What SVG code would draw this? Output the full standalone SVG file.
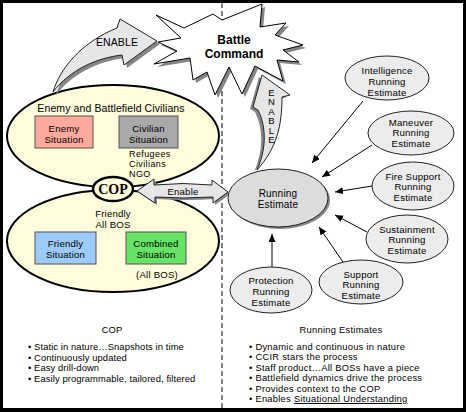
<svg xmlns="http://www.w3.org/2000/svg" width="466" height="412" viewBox="0 0 466 412">
<defs>
<style>
text{font-family:"Liberation Sans",Arial,sans-serif;font-size:9.6px;letter-spacing:0.2px;fill:#000}
.c{text-anchor:middle}
.hd{font-size:10.5px;letter-spacing:0.1px}
.big{fill:#FFFCDC;stroke:#000;stroke-width:2}
.box{stroke:#555;stroke-width:1}
.re{fill:#ECECEC;stroke:#222;stroke-width:1}
.sh{fill:#858585}
.arr{fill:#E6E6E6;stroke:#222;stroke-width:1}
.con{stroke:#000;stroke-width:1;fill:none;marker-end:url(#ah)}
.nl{font-size:9.4px;letter-spacing:0.1px}
.nr{font-size:9.4px;letter-spacing:0.25px}
</style>
<marker id="ah" markerUnits="userSpaceOnUse" markerWidth="9" markerHeight="8" refX="8" refY="3.5" orient="auto">
<path d="M0,0 L8,3.5 L0,7 Z" fill="#000"/>
</marker>
</defs>
<rect x="0" y="0" width="466" height="412" fill="#000"/>
<rect x="3" y="3" width="460" height="405" fill="#fff"/>
<line x1="222" y1="3" x2="222" y2="408" stroke="#000" stroke-width="1" stroke-dasharray="5,3"/>

<g id="battle-command">
<polygon class="sh" transform="translate(3,3)" points="156,15 184,28 213,14 222,20 262,4 260,27 286,23 275,35 303,45 283,50 299,62 277,60 283,81 255,66 242,94 229,67 215,95 207,72 193,80 190,58 154,64 177,51 158,42 181,38"/>
<polygon fill="#fff" stroke="#000" stroke-width="1" points="156,15 184,28 213,14 222,20 262,4 260,27 286,23 275,35 303,45 283,50 299,62 277,60 283,81 255,66 242,94 229,67 215,95 207,72 193,80 190,58 154,64 177,51 158,42 181,38"/>
<text class="c" x="234" y="44" style="font-weight:bold;font-size:12px;letter-spacing:0">Battle</text>
<text class="c" x="234" y="58" style="font-weight:bold;font-size:12px;letter-spacing:0">Command</text>
</g>

<g id="enemy-ellipse">
<ellipse class="big" cx="113" cy="136" rx="106" ry="51"/>
<text class="c hd" x="111" y="112">Enemy and Battlefield Civilians</text>
</g>
<g id="friendly-ellipse">
<ellipse class="big" cx="113" cy="241" rx="106" ry="51"/>
<text class="c" x="113" y="216.5">Friendly</text>
<text class="c" x="113" y="227.5">All BOS</text>
<text class="c" x="157" y="278">(All BOS)</text>
</g>

<g id="enable-top">
<path class="sh" transform="translate(3,3)" d="M53,92 C60,68 82,42 117,28 L120,19 L157,41 L124,65 L122,55 C96,58 70,70 53,92 Z"/>
<path class="arr" d="M53,92 C60,68 82,42 117,28 L120,19 L157,41 L124,65 L122,55 C96,58 70,70 53,92 Z"/>
<text class="c hd" x="117" y="46">ENABLE</text>
</g>

<g id="enemy-situation">
<rect class="box" x="35" y="116" width="58" height="32" fill="#FFAA9C"/>
<text class="c" x="64" y="131.5">Enemy</text>
<text class="c" x="64" y="142.5">Situation</text>
</g>
<g id="civilian-situation">
<rect class="box" x="119" y="116" width="59" height="32" fill="#A9A9A9"/>
<text class="c" x="148.5" y="131.5">Civilian</text>
<text class="c" x="148.5" y="142.5">Situation</text>
</g>
<g id="refugees">
<text x="129" y="157" style="font-size:9px;letter-spacing:0.4px">Refugees</text>
<text x="129" y="167.2" style="font-size:9px;letter-spacing:0.4px">Civilians</text>
<text x="129" y="177.4" style="font-size:9px;letter-spacing:0.4px">NGO</text>
</g>
<g id="friendly-situation">
<rect class="box" x="35" y="232" width="61" height="32" fill="#9CCBFA"/>
<text class="c" x="65.5" y="246.5">Friendly</text>
<text class="c" x="65.5" y="257.5">Situation</text>
</g>
<g id="combined-situation">
<rect class="box" x="126" y="232" width="60" height="32" fill="#66E466"/>
<text class="c" x="156" y="246.5">Combined</text>
<text class="c" x="156" y="257.5">Situation</text>
</g>

<g id="enable-mid">
<path class="sh" transform="translate(2,2)" d="M137,191 L154,179 L154,185 Q183,182 212,185 L212,180 L228,192 L213,203 L213,197 Q183,199 155,197 L155,203 Z"/>
<path class="arr" d="M137,191 L154,179 L154,185 Q183,182 212,185 L212,180 L228,192 L213,203 L213,197 Q183,199 155,197 L155,203 Z"/>
<text class="c" x="183" y="195">Enable</text>
</g>

<g id="cop">
<ellipse cx="113" cy="189" rx="20" ry="12" fill="#FFFCDC" stroke="#000" stroke-width="2.5"/>
<text class="c" x="113" y="194" style="font-family:'Liberation Serif',serif;font-weight:bold;font-size:14px;letter-spacing:0">COP</text>
</g>

<g id="enable-vertical">
<path class="sh" transform="translate(-3,2)" d="M257,170 C266,150 267,128 258,110 L253,107 L262,75 L290,95 L282,97 C282,125 277,148 257,170 Z"/>
<path class="arr" d="M257,170 C266,150 267,128 258,110 L253,107 L262,75 L290,95 L282,97 C282,125 277,148 257,170 Z"/>
<text x="271.5" y="87" style="writing-mode:vertical-rl;text-orientation:upright;font-size:9.5px;letter-spacing:-1.6px">ENABLE</text>
</g>

<g id="running-estimate">
<ellipse cx="280" cy="200" rx="50" ry="29" fill="#858585"/>
<ellipse cx="278" cy="198" rx="50" ry="29" fill="#DCDCDC" stroke="#222" stroke-width="1"/>
<text class="c" x="278" y="197" style="font-size:10px">Running</text>
<text class="c" x="278" y="208" style="font-size:10px">Estimate</text>
</g>

<g id="intelligence">
<ellipse class="re" cx="387" cy="78" rx="42" ry="22"/>
<text class="c" x="387" y="74">Intelligence</text>
<text class="c" x="387" y="84.8">Running</text>
<text class="c" x="387" y="95.6">Estimate</text>
</g>
<g id="maneuver">
<ellipse class="re" cx="411" cy="133" rx="43" ry="22"/>
<text class="c" x="411" y="125.5">Maneuver</text>
<text class="c" x="411" y="136.2">Running</text>
<text class="c" x="411" y="146.9">Estimate</text>
</g>
<g id="fire-support">
<ellipse class="re" cx="413" cy="186" rx="41" ry="24"/>
<text class="c" x="413" y="179.5">Fire Support</text>
<text class="c" x="413" y="190.2">Running</text>
<text class="c" x="413" y="200.9">Estimate</text>
</g>
<g id="sustainment">
<ellipse class="re" cx="407" cy="239" rx="41" ry="24"/>
<text class="c" x="407" y="232.5">Sustainment</text>
<text class="c" x="407" y="243.2">Running</text>
<text class="c" x="407" y="253.9">Estimate</text>
</g>
<g id="support">
<ellipse class="re" cx="361" cy="282" rx="42" ry="22"/>
<text class="c" x="361" y="277.5">Support</text>
<text class="c" x="361" y="288.2">Running</text>
<text class="c" x="361" y="298.9">Estimate</text>
</g>
<g id="protection">
<ellipse class="re" cx="271" cy="290" rx="41" ry="23"/>
<text class="c" x="271" y="284">Protection</text>
<text class="c" x="271" y="294.9">Running</text>
<text class="c" x="271" y="305.8">Estimate</text>
</g>

<g id="connectors">
<line class="con" x1="363" y1="101" x2="312" y2="163"/>
<line class="con" x1="372" y1="145" x2="322" y2="177"/>
<line class="con" x1="372" y1="186" x2="335" y2="192"/>
<line class="con" x1="367" y1="232" x2="335" y2="215"/>
<line class="con" x1="343" y1="262" x2="319" y2="227"/>
<line class="con" x1="272" y1="267" x2="272" y2="234"/>
</g>

<g id="cop-notes">
<text class="c nl" x="112" y="333">COP</text>
<text class="nl" x="28" y="350">• Static in nature…Snapshots in time</text>
<text class="nl" x="28" y="360.6">• Continuously updated</text>
<text class="nl" x="28" y="371.2">• Easy drill-down</text>
<text class="nl" x="28" y="381.8">• Easily programmable, tailored, filtered</text>
</g>
<g id="re-notes">
<text class="c nr" x="341" y="333">Running Estimates</text>
<text class="nr" x="249" y="349.5">• Dynamic and continuous in nature</text>
<text class="nr" x="249" y="360">• CCIR stars the process</text>
<text class="nr" x="249" y="370.5">• Staff product…All BOSs have a piece</text>
<text class="nr" x="249" y="381">• Battlefield dynamics drive the process</text>
<text class="nr" x="249" y="391.5">• Provides context to the COP</text>
<text class="nr" x="249" y="402">• Enables <tspan text-decoration="underline">Situational Understanding</tspan></text>
</g>
</svg>
